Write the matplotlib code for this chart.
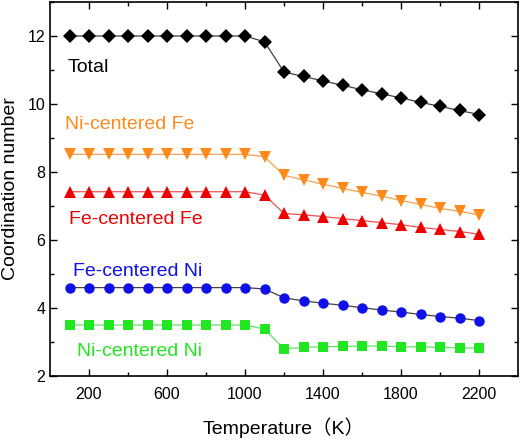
import matplotlib
matplotlib.use("Agg")
import matplotlib.pyplot as plt
from matplotlib.ticker import MultipleLocator, FixedLocator

plt.rcParams['font.family'] = ['Liberation Sans', 'Noto Sans CJK SC', 'DejaVu Sans']

temperature = [100, 200, 300, 400, 500, 600, 700, 800, 900, 1000, 1100,
               1200, 1300, 1400, 1500, 1600, 1700, 1800, 1900, 2000, 2100, 2200]

total = [12.0, 12.0, 12.0, 12.0, 12.0, 12.0, 12.0, 12.0, 12.0, 12.0, 11.83,
         10.94, 10.81, 10.68, 10.55, 10.42, 10.30, 10.18, 10.05, 9.93, 9.81, 9.69]
ni_centered_fe = [8.52, 8.52, 8.52, 8.52, 8.52, 8.52, 8.52, 8.52, 8.52, 8.52, 8.45,
                  7.90, 7.77, 7.64, 7.52, 7.40, 7.29, 7.16, 7.05, 6.93, 6.84, 6.74]
fe_centered_fe = [7.42, 7.42, 7.42, 7.42, 7.42, 7.42, 7.42, 7.42, 7.42, 7.42, 7.32,
                  6.78, 6.74, 6.69, 6.63, 6.57, 6.51, 6.45, 6.37, 6.31, 6.25, 6.17]
fe_centered_ni = [4.60, 4.60, 4.60, 4.60, 4.60, 4.60, 4.60, 4.60, 4.60, 4.60, 4.56,
                  4.30, 4.21, 4.14, 4.08, 4.01, 3.94, 3.88, 3.81, 3.75, 3.70, 3.63]
ni_centered_ni = [3.50, 3.50, 3.50, 3.50, 3.50, 3.50, 3.50, 3.50, 3.50, 3.50, 3.38,
                  2.80, 2.84, 2.86, 2.87, 2.88, 2.88, 2.86, 2.86, 2.84, 2.83, 2.82]

labels = ["Total", "Ni-centered Fe", "Fe-centered Fe", "Fe-centered Ni", "Ni-centered Ni"]
label_x = [90, 75, 95, 120, 140]
label_y = [11.06, 9.41, 6.59, 5.06, 2.71]

fig = plt.figure(figsize=(5.2, 4.41), dpi=100)
ax = fig.add_axes([50/520, 1 - 376/441, 468/520, 374/441])

series = [
    (total, 'D', '#000000', '#404040', 7.5),
    (ni_centered_fe, 'v', '#FF8A1C', '#F5A050', 8),
    (fe_centered_fe, '^', '#EE0000', '#F05050', 8),
    (fe_centered_ni, 'o', '#1010E8', '#404040', 7.5),
    (ni_centered_ni, 's', '#22E622', '#60E860', 6.5),
]
for vals, mk, col, lcol, ms in series:
    ax.plot(temperature, vals, '-', color=lcol, lw=0.9, zorder=2)
    ax.plot(temperature, vals, linestyle='none', marker=mk, color=col,
            markersize=ms, markeredgewidth=0, zorder=3)

for (vals, mk, col, lcol, ms), lab, lx, ly in zip(series, labels, label_x, label_y):
    ax.text(lx, ly, lab, color=col, fontsize=14, ha='left', va='center')

ax.set_xlim(0, 2400)
ax.set_ylim(2, 13)
ax.xaxis.set_major_locator(FixedLocator([200, 600, 1000, 1400, 1800, 2200]))
ax.xaxis.set_minor_locator(FixedLocator([400, 800, 1200, 1600, 2000]))
ax.yaxis.set_major_locator(MultipleLocator(2))
ax.yaxis.set_minor_locator(MultipleLocator(1))
ax.tick_params(which='both', direction='in', top=True, right=True, labelsize=11.5)
ax.tick_params(which='major', length=5, width=1)
ax.tick_params(which='minor', length=3, width=1)
ax.tick_params(axis='x', pad=8)
for s in ax.spines.values():
    s.set_linewidth(1.2)

ax.set_xlabel("Temperature（K）", fontsize=14, labelpad=11)
ax.set_ylabel("Coordination number", fontsize=14, labelpad=6)

fig.savefig("out.png", dpi=100)
